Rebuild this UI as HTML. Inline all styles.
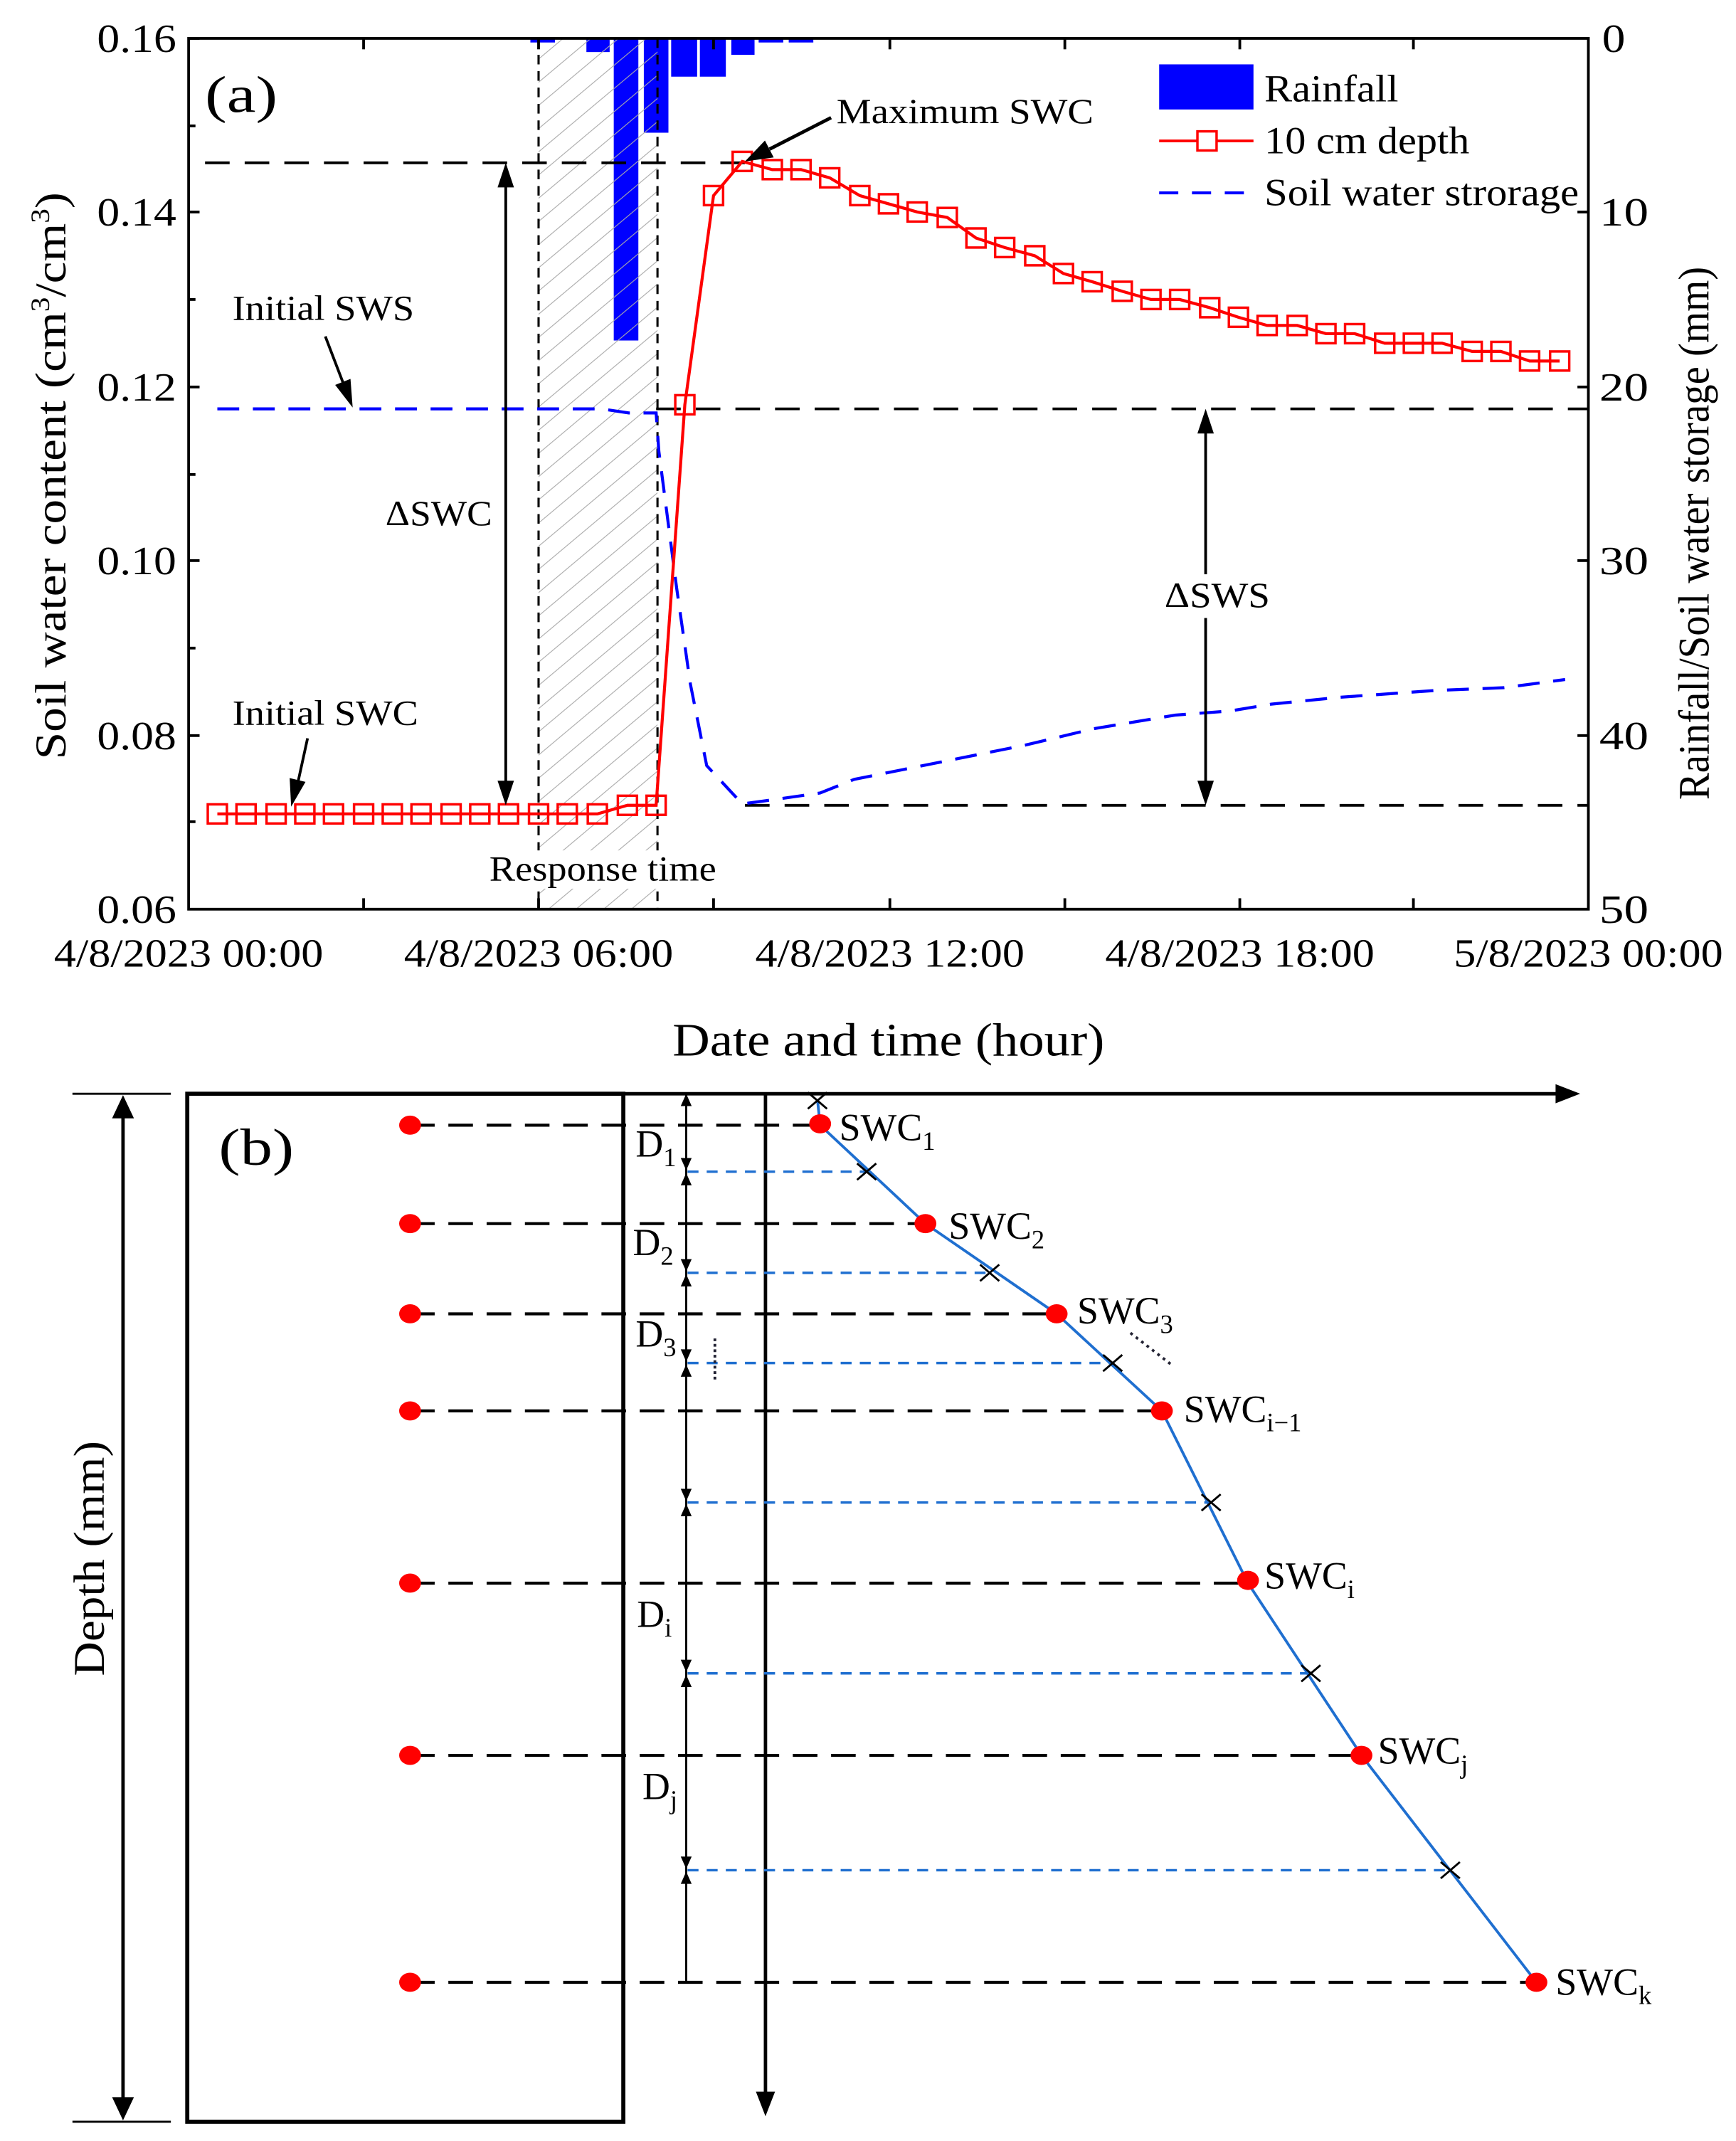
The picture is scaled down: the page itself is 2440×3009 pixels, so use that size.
<!DOCTYPE html>
<html><head><meta charset="utf-8"><style>
html,body{margin:0;padding:0;background:#fff;}
svg{display:block;}
text{font-family:"Liberation Serif",serif;fill:#000;}
</style></head><body>
<svg width="2440" height="3009" viewBox="0 0 1270 1566" xmlns="http://www.w3.org/2000/svg">
<defs>
<pattern id="hat" patternUnits="userSpaceOnUse" width="13" height="13" patternTransform="rotate(-40)">
<line x1="0" y1="0" x2="13" y2="0" stroke="#aaa" stroke-width="1.2"/>
</pattern>
</defs>
<!-- Part (a) -->
<g fill="#0000ff">
<rect x="388" y="28" width="18" height="3"/>
<rect x="429" y="28" width="17" height="10"/>
<rect x="449" y="28" width="18" height="221"/>
<rect x="471" y="28" width="18" height="69"/>
<rect x="491" y="28" width="19" height="28"/>
<rect x="512" y="28" width="19" height="28"/>
<rect x="535" y="28" width="17" height="12"/>
<rect x="555" y="28" width="18" height="3"/>
<rect x="577" y="28" width="18" height="3"/>
</g>
<rect x="394" y="28" width="87" height="637" fill="url(#hat)"/>
<line x1="394" y1="28" x2="394" y2="665" stroke="#000" stroke-width="1.6" stroke-dasharray="7,5"/>
<line x1="481" y1="28" x2="481" y2="665" stroke="#000" stroke-width="1.6" stroke-dasharray="7,5"/>
<g stroke="#000" stroke-width="2" stroke-dasharray="18,11" fill="none">
<line x1="150" y1="119" x2="545" y2="119"/>
<line x1="480" y1="299" x2="1162" y2="299"/>
<line x1="545" y1="589" x2="1162" y2="589"/>
</g>
<polyline fill="none" stroke="#0000ff" stroke-width="2.2" stroke-dasharray="16,10" points="159,299 440,299 460,302 480,302 482,330 495,430 505,500 517,560 543,588 565,585 600,580 625,570 650,565 700,555 750,545 800,533 860,523 900,520 930,515 980,510 1050,505 1100,503 1145,497"/>
<polyline fill="none" stroke="#ff0000" stroke-width="2.2" points="159,595.3 180,595.3 202,595.3 223,595.3 244,595.3 266,595.3 287,595.3 308,595.3 330,595.3 351,595.3 372,595.3 394,595.3 415,595.3 437,595.3 459,589 480,589 501,296 522,143 543,118 565,124 586,124 607,130 629,143 650,149 671,155 693,159 714,174 735,181 757,187 778,200 799,206 821,213 842,219 863,219 885,225 906,232 927,238 949,238 970,244 991,244 1013,251 1034,251 1055,251 1077,257 1098,257 1119,264 1141,264"/>
<g fill="none" stroke="#ff0000" stroke-width="1.8">
<rect x="152" y="588.3" width="14" height="14"/><rect x="173" y="588.3" width="14" height="14"/><rect x="195" y="588.3" width="14" height="14"/><rect x="216" y="588.3" width="14" height="14"/><rect x="237" y="588.3" width="14" height="14"/><rect x="259" y="588.3" width="14" height="14"/><rect x="280" y="588.3" width="14" height="14"/><rect x="301" y="588.3" width="14" height="14"/><rect x="323" y="588.3" width="14" height="14"/><rect x="344" y="588.3" width="14" height="14"/><rect x="365" y="588.3" width="14" height="14"/><rect x="387" y="588.3" width="14" height="14"/><rect x="408" y="588.3" width="14" height="14"/><rect x="430" y="588.3" width="14" height="14"/><rect x="452" y="582" width="14" height="14"/><rect x="473" y="582" width="14" height="14"/><rect x="494" y="289" width="14" height="14"/><rect x="515" y="136" width="14" height="14"/><rect x="536" y="111" width="14" height="14"/><rect x="558" y="117" width="14" height="14"/><rect x="579" y="117" width="14" height="14"/><rect x="600" y="123" width="14" height="14"/><rect x="622" y="136" width="14" height="14"/><rect x="643" y="142" width="14" height="14"/><rect x="664" y="148" width="14" height="14"/><rect x="686" y="152" width="14" height="14"/><rect x="707" y="167" width="14" height="14"/><rect x="728" y="174" width="14" height="14"/><rect x="750" y="180" width="14" height="14"/><rect x="771" y="193" width="14" height="14"/><rect x="792" y="199" width="14" height="14"/><rect x="814" y="206" width="14" height="14"/><rect x="835" y="212" width="14" height="14"/><rect x="856" y="212" width="14" height="14"/><rect x="878" y="218" width="14" height="14"/><rect x="899" y="225" width="14" height="14"/><rect x="920" y="231" width="14" height="14"/><rect x="942" y="231" width="14" height="14"/><rect x="963" y="237" width="14" height="14"/><rect x="984" y="237" width="14" height="14"/><rect x="1006" y="244" width="14" height="14"/><rect x="1027" y="244" width="14" height="14"/><rect x="1048" y="244" width="14" height="14"/><rect x="1070" y="250" width="14" height="14"/><rect x="1091" y="250" width="14" height="14"/><rect x="1112" y="257" width="14" height="14"/><rect x="1134" y="257" width="14" height="14"/>
</g>
<rect x="138" y="28" width="1024" height="637" fill="none" stroke="#000" stroke-width="2"/>
<g stroke="#000" stroke-width="2">
<line x1="138" y1="28" x2="146" y2="28"/><line x1="138" y1="92" x2="143" y2="92"/><line x1="138" y1="155" x2="146" y2="155"/><line x1="138" y1="219" x2="143" y2="219"/><line x1="138" y1="283" x2="146" y2="283"/><line x1="138" y1="347" x2="143" y2="347"/><line x1="138" y1="410" x2="146" y2="410"/><line x1="138" y1="474" x2="143" y2="474"/><line x1="138" y1="538" x2="146" y2="538"/><line x1="138" y1="601" x2="143" y2="601"/>
<line x1="1162" y1="155" x2="1154" y2="155"/><line x1="1162" y1="283" x2="1154" y2="283"/><line x1="1162" y1="410" x2="1154" y2="410"/><line x1="1162" y1="538" x2="1154" y2="538"/>
<line x1="266" y1="665" x2="266" y2="657"/><line x1="394" y1="665" x2="394" y2="657"/><line x1="522" y1="665" x2="522" y2="657"/><line x1="651" y1="665" x2="651" y2="657"/><line x1="779" y1="665" x2="779" y2="657"/><line x1="907" y1="665" x2="907" y2="657"/><line x1="1034" y1="665" x2="1034" y2="657"/>
<line x1="266" y1="28" x2="266" y2="36"/><line x1="394" y1="28" x2="394" y2="36"/><line x1="522" y1="28" x2="522" y2="36"/><line x1="651" y1="28" x2="651" y2="36"/><line x1="779" y1="28" x2="779" y2="36"/><line x1="907" y1="28" x2="907" y2="36"/><line x1="1034" y1="28" x2="1034" y2="36"/>
</g>
<g font-size="29" text-anchor="end">
<text x="129" y="38" textLength="58" lengthAdjust="spacingAndGlyphs">0.16</text><text x="129" y="165" textLength="58" lengthAdjust="spacingAndGlyphs">0.14</text><text x="129" y="293" textLength="58" lengthAdjust="spacingAndGlyphs">0.12</text><text x="129" y="420" textLength="58" lengthAdjust="spacingAndGlyphs">0.10</text><text x="129" y="548" textLength="58" lengthAdjust="spacingAndGlyphs">0.08</text><text x="129" y="675" textLength="58" lengthAdjust="spacingAndGlyphs">0.06</text>
</g>
<g font-size="29" text-anchor="start">
<text x="1172" y="38" textLength="17" lengthAdjust="spacingAndGlyphs">0</text><text x="1170" y="165" textLength="36" lengthAdjust="spacingAndGlyphs">10</text><text x="1170" y="293" textLength="36" lengthAdjust="spacingAndGlyphs">20</text><text x="1170" y="420" textLength="36" lengthAdjust="spacingAndGlyphs">30</text><text x="1170" y="548" textLength="36" lengthAdjust="spacingAndGlyphs">40</text><text x="1170" y="675" textLength="36" lengthAdjust="spacingAndGlyphs">50</text>
</g>
<g font-size="29" text-anchor="middle">
<text x="138" y="707" textLength="197" lengthAdjust="spacingAndGlyphs">4/8/2023 00:00</text><text x="394" y="707" textLength="197" lengthAdjust="spacingAndGlyphs">4/8/2023 06:00</text><text x="651" y="707" textLength="197" lengthAdjust="spacingAndGlyphs">4/8/2023 12:00</text><text x="907" y="707" textLength="197" lengthAdjust="spacingAndGlyphs">4/8/2023 18:00</text><text x="1162" y="707" textLength="197" lengthAdjust="spacingAndGlyphs">5/8/2023 00:00</text>
</g>
<text x="650" y="772" font-size="34" text-anchor="middle" textLength="316" lengthAdjust="spacingAndGlyphs">Date and time (hour)</text>
<text transform="translate(48,348) rotate(-90)" font-size="32" text-anchor="middle" textLength="415" lengthAdjust="spacingAndGlyphs">Soil water content (cm<tspan font-size="19" dy="-12">3</tspan><tspan dy="12">/cm</tspan><tspan font-size="19" dy="-12">3</tspan><tspan dy="12">)</tspan></text>
<text transform="translate(1250,390) rotate(-90)" font-size="32" text-anchor="middle" textLength="390" lengthAdjust="spacingAndGlyphs">Rainfall/Soil water storage (mm)</text>
<text x="150" y="82" font-size="38" textLength="53" lengthAdjust="spacingAndGlyphs">(a)</text>
<line x1="370" y1="130" x2="370" y2="578" stroke="#000" stroke-width="2"/>
<path d="M370,119 L364,137 L376,137 z M370,589 L364,571 L376,571 z" fill="#000"/>
<rect x="280" y="362" width="82" height="30" fill="#fff"/>
<text x="282" y="384" font-size="26" textLength="78" lengthAdjust="spacingAndGlyphs">ΔSWC</text>
<line x1="882" y1="310" x2="882" y2="578" stroke="#000" stroke-width="2"/>
<path d="M882,299 L876,317 L888,317 z M882,589 L876,571 L888,571 z" fill="#000"/>
<rect x="850" y="420" width="80" height="32" fill="#fff"/>
<text x="852" y="444" font-size="26" textLength="77" lengthAdjust="spacingAndGlyphs">ΔSWS</text>
<text x="170" y="234" font-size="26" textLength="133" lengthAdjust="spacingAndGlyphs">Initial SWS</text>
<line x1="238" y1="246" x2="251" y2="280" stroke="#000" stroke-width="2"/>
<path d="M258,298 L245.2,281.5 L256.4,277.1 z" fill="#000"/>
<text x="170" y="530" font-size="26" textLength="136" lengthAdjust="spacingAndGlyphs">Initial SWC</text>
<line x1="225" y1="540" x2="218" y2="572" stroke="#000" stroke-width="2"/>
<path d="M213,590 L211.9,569.1 L223.5,571.9 z" fill="#000"/>
<rect x="356" y="622" width="170" height="28" fill="#fff"/>
<text x="358" y="644" font-size="26" textLength="166" lengthAdjust="spacingAndGlyphs">Response time</text>
<text x="612" y="90" font-size="26" textLength="188" lengthAdjust="spacingAndGlyphs">Maximum SWC</text>
<line x1="608" y1="86" x2="563" y2="109" stroke="#000" stroke-width="2.5"/>
<path d="M545,118 L559.6,102.7 L566,115.1 z" fill="#000"/>
<rect x="848" y="47" width="69" height="33" fill="#0000ff"/>
<text x="925" y="74" font-size="28" textLength="98" lengthAdjust="spacingAndGlyphs">Rainfall</text>
<line x1="848" y1="103" x2="917" y2="103" stroke="#ff0000" stroke-width="2"/>
<rect x="876" y="96" width="14" height="14" fill="#fff" stroke="#ff0000" stroke-width="1.8"/>
<text x="925" y="112" font-size="28" textLength="150" lengthAdjust="spacingAndGlyphs">10 cm depth</text>
<line x1="848" y1="141" x2="917" y2="141" stroke="#0000ff" stroke-width="2.2" stroke-dasharray="14,10"/>
<text x="925" y="150" font-size="28" textLength="230" lengthAdjust="spacingAndGlyphs">Soil water strorage</text>

<!-- Part (b) -->
<rect x="137" y="800" width="319" height="752" fill="none" stroke="#000" stroke-width="3"/>
<line x1="53" y1="800" x2="125" y2="800" stroke="#000" stroke-width="1.5"/>
<line x1="53" y1="1552" x2="125" y2="1552" stroke="#000" stroke-width="1.5"/>
<line x1="90" y1="815" x2="90" y2="1537" stroke="#000" stroke-width="2.5"/>
<path d="M90,801 L82,818 L98,818 z M90,1551 L82,1534 L98,1534 z" fill="#000"/>
<text transform="translate(76,1140) rotate(-90)" font-size="32" text-anchor="middle" textLength="172" lengthAdjust="spacingAndGlyphs">Depth (mm)</text>
<text x="160" y="852" font-size="38" textLength="55" lengthAdjust="spacingAndGlyphs">(b)</text>
<line x1="456" y1="800" x2="1140" y2="800" stroke="#000" stroke-width="2.5"/>
<path d="M1156,800 L1138,793 L1138,807 z" fill="#000"/>
<line x1="560" y1="800" x2="560" y2="1532" stroke="#000" stroke-width="2.5"/>
<path d="M560,1548 L553,1530 L567,1530 z" fill="#000"/>
<g stroke="#000" stroke-width="2.2" stroke-dasharray="18,10">
<line x1="300" y1="823" x2="600" y2="823"/><line x1="300" y1="895" x2="677" y2="895"/><line x1="300" y1="961" x2="773" y2="961"/><line x1="300" y1="1032" x2="850" y2="1032"/><line x1="300" y1="1158" x2="913" y2="1158"/><line x1="300" y1="1284" x2="996" y2="1284"/><line x1="300" y1="1450" x2="1124" y2="1450"/>
</g>
<g stroke="#1f6fd0" stroke-width="1.8" stroke-dasharray="8,6">
<line x1="503" y1="857" x2="634" y2="857"/><line x1="503" y1="931" x2="724" y2="931"/><line x1="503" y1="997" x2="814" y2="997"/><line x1="503" y1="1099" x2="886" y2="1099"/><line x1="503" y1="1224" x2="959" y2="1224"/><line x1="503" y1="1368" x2="1061" y2="1368"/>
</g>
<polyline fill="none" stroke="#1f6fd0" stroke-width="2" points="598,804 600,823 677,895 773,961 850,1032 913,1158 996,1284 1124,1450"/>
<g stroke="#000" stroke-width="1.5">
<path d="M591,799 L605,811 M605,799 L591,811"/>
<path d="M627,851 L641,863 M641,851 L627,863"/>
<path d="M717,925 L731,937 M731,925 L717,937"/>
<path d="M807,991 L821,1003 M821,991 L807,1003"/>
<path d="M879,1093 L893,1105 M893,1093 L879,1105"/>
<path d="M952,1218 L966,1230 M966,1218 L952,1230"/>
<path d="M1054,1362 L1068,1374 M1068,1362 L1054,1374"/>
</g>
<g fill="#ff0000">
<ellipse cx="300" cy="823" rx="8" ry="7"/><ellipse cx="300" cy="895" rx="8" ry="7"/><ellipse cx="300" cy="961" rx="8" ry="7"/><ellipse cx="300" cy="1032" rx="8" ry="7"/><ellipse cx="300" cy="1158" rx="8" ry="7"/><ellipse cx="300" cy="1284" rx="8" ry="7"/><ellipse cx="300" cy="1450" rx="8" ry="7"/>
<ellipse cx="600" cy="822" rx="8" ry="7"/><ellipse cx="677" cy="895" rx="8" ry="7"/><ellipse cx="773" cy="961" rx="8" ry="7"/><ellipse cx="850" cy="1032" rx="8" ry="7"/><ellipse cx="913" cy="1156" rx="8" ry="7"/><ellipse cx="996" cy="1284" rx="8" ry="7"/><ellipse cx="1124" cy="1450" rx="8" ry="7"/>
</g>
<g stroke="#000" stroke-width="1.5">
<line x1="502" y1="800" x2="502" y2="1450"/>
</g>
<g fill="#000">
<path d="M502,800 l-4,9 l8,0 z M502,856 l-4,-9 l8,0 z M502,858 l-4,9 l8,0 z M502,930 l-4,-9 l8,0 z M502,932 l-4,9 l8,0 z M502,996 l-4,-9 l8,0 z M502,998 l-4,9 l8,0 z M502,1098 l-4,-9 l8,0 z M502,1100 l-4,9 l8,0 z M502,1223 l-4,-9 l8,0 z M502,1225 l-4,9 l8,0 z M502,1367 l-4,-9 l8,0 z M502,1369 l-4,9 l8,0 z"/>
</g>
<line x1="523" y1="979" x2="523" y2="1009" stroke="#223" stroke-width="2" stroke-dasharray="2,2"/>
<line x1="827" y1="975" x2="858" y2="999" stroke="#223" stroke-width="2" stroke-dasharray="2,3"/>
<g font-size="28">
<text x="465" y="846">D<tspan font-size="19" dy="7">1</tspan></text>
<text x="463" y="918">D<tspan font-size="19" dy="7">2</tspan></text>
<text x="465" y="985">D<tspan font-size="19" dy="7">3</tspan></text>
<text x="466" y="1190">D<tspan font-size="19" dy="7">i</tspan></text>
<text x="470" y="1316">D<tspan font-size="19" dy="7">j</tspan></text>
<text x="614" y="834">SWC<tspan font-size="19" dy="7">1</tspan></text>
<text x="694" y="906">SWC<tspan font-size="19" dy="7">2</tspan></text>
<text x="788" y="968">SWC<tspan font-size="19" dy="7">3</tspan></text>
<text x="866" y="1040">SWC<tspan font-size="19" dy="7">i−1</tspan></text>
<text x="925" y="1162">SWC<tspan font-size="19" dy="7">i</tspan></text>
<text x="1008" y="1290">SWC<tspan font-size="19" dy="7">j</tspan></text>
<text x="1138" y="1459">SWC<tspan font-size="19" dy="7">k</tspan></text>
</g>
</svg>
</body></html>
